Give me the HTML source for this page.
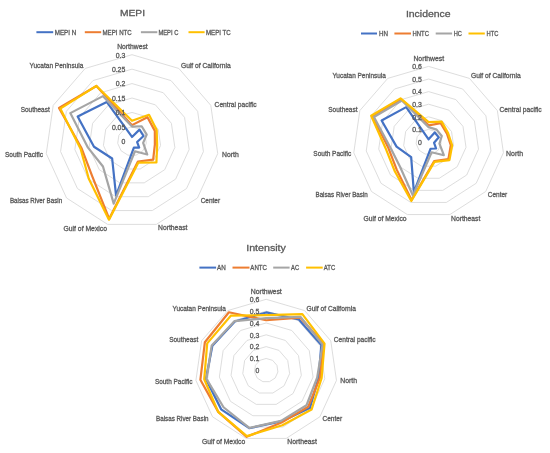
<!DOCTYPE html>
<html><head><meta charset="utf-8"><style>html,body{margin:0;padding:0;background:#fff;width:550px;height:453px;overflow:hidden}svg{display:block}</style></head>
<body>
<div id="w"><svg width="550" height="453" viewBox="0 0 550 453" font-family='"Liberation Sans", sans-serif' fill="#595959" stroke="#595959" stroke-width="0">
<rect width="550" height="453" fill="#fff"/>
<polygon points="132.00,126.87 139.80,129.16 145.13,135.30 146.29,143.35 142.91,150.75 136.07,155.15 127.93,155.15 121.09,150.75 117.71,143.35 118.87,135.30 124.20,129.16" fill="none" stroke="#D9D9D9" stroke-width="0.9"/>
<polygon points="132.00,112.43 147.61,117.02 158.26,129.31 160.57,145.41 153.82,160.20 140.13,169.00 123.87,169.00 110.18,160.20 103.43,145.41 105.74,129.31 116.39,117.02" fill="none" stroke="#D9D9D9" stroke-width="0.9"/>
<polygon points="132.00,98.00 155.41,104.87 171.39,123.31 174.86,147.46 164.72,169.66 144.20,182.85 119.80,182.85 99.28,169.66 89.14,147.46 92.61,123.31 108.59,104.87" fill="none" stroke="#D9D9D9" stroke-width="0.9"/>
<polygon points="132.00,83.57 163.21,92.73 184.52,117.32 189.15,149.52 175.63,179.11 148.27,196.69 115.73,196.69 88.37,179.11 74.85,149.52 79.48,117.32 100.79,92.73" fill="none" stroke="#D9D9D9" stroke-width="0.9"/>
<polygon points="132.00,69.13 171.02,80.59 197.65,111.32 203.43,151.57 186.54,188.56 152.33,210.54 111.67,210.54 77.46,188.56 60.57,151.57 66.35,111.32 92.98,80.59" fill="none" stroke="#D9D9D9" stroke-width="0.9"/>
<polygon points="132.00,54.70 178.82,68.45 210.77,105.33 217.72,153.62 197.45,198.01 156.40,224.39 107.60,224.39 66.55,198.01 46.28,153.62 53.23,105.33 85.18,68.45" fill="none" stroke="#D9D9D9" stroke-width="0.9"/>
<polygon points="132.00,136.97 139.49,129.64 143.55,136.02 137.14,142.04 139.20,147.54 133.87,147.67 116.06,195.59 112.15,158.50 94.00,146.76 77.65,116.48 106.72,101.96" fill="none" stroke="#4472C4" stroke-width="2.2" stroke-linejoin="round"/>
<polygon points="132.00,125.13 147.45,117.26 154.84,130.87 154.86,144.59 153.16,159.64 137.94,161.52 109.23,218.85 92.08,175.89 81.71,148.53 59.00,107.96 96.42,85.93" fill="none" stroke="#ED7D31" stroke-width="2.2" stroke-linejoin="round"/>
<polygon points="132.00,126.58 141.68,126.24 146.70,134.58 143.14,142.90 147.27,154.53 134.93,151.27 113.70,203.62 102.98,166.44 88.00,147.63 70.29,113.12 102.97,96.13" fill="none" stroke="#A5A5A5" stroke-width="2.2" stroke-linejoin="round"/>
<polygon points="132.00,120.80 149.01,114.83 156.68,130.03 157.14,144.92 156.43,162.47 138.26,162.63 108.98,219.68 88.80,178.73 80.57,148.69 60.32,108.56 96.42,85.93" fill="none" stroke="#FFC000" stroke-width="2.2" stroke-linejoin="round"/>
<text x="125.3" y="144.1" font-size="6.9" stroke-width="0.3" text-anchor="end">0</text>
<text x="125.3" y="129.7" font-size="6.9" stroke-width="0.3" text-anchor="end">0.05</text>
<text x="125.3" y="115.2" font-size="6.9" stroke-width="0.3" text-anchor="end">0.1</text>
<text x="125.3" y="100.8" font-size="6.9" stroke-width="0.3" text-anchor="end">0.15</text>
<text x="125.3" y="86.4" font-size="6.9" stroke-width="0.3" text-anchor="end">0.2</text>
<text x="125.3" y="71.9" font-size="6.9" stroke-width="0.3" text-anchor="end">0.25</text>
<text x="125.3" y="57.5" font-size="6.9" stroke-width="0.3" text-anchor="end">0.3</text>
<text x="117.2" y="48.9" font-size="6.9" stroke-width="0.3" textLength="30.5" lengthAdjust="spacingAndGlyphs">Northwest</text>
<text x="181.0" y="67.9" font-size="6.9" stroke-width="0.3" textLength="49.6" lengthAdjust="spacingAndGlyphs">Gulf of California</text>
<text x="214.6" y="106.5" font-size="6.9" stroke-width="0.3" textLength="42.1" lengthAdjust="spacingAndGlyphs">Central pacific</text>
<text x="222.1" y="156.7" font-size="6.9" stroke-width="0.3" textLength="16.7" lengthAdjust="spacingAndGlyphs">North</text>
<text x="200.7" y="202.6" font-size="6.9" stroke-width="0.3" textLength="19.4" lengthAdjust="spacingAndGlyphs">Center</text>
<text x="158.1" y="230.2" font-size="6.9" stroke-width="0.3" textLength="29.3" lengthAdjust="spacingAndGlyphs">Northeast</text>
<text x="63.5" y="230.6" font-size="6.9" stroke-width="0.3" textLength="43.5" lengthAdjust="spacingAndGlyphs">Gulf of Mexico</text>
<text x="9.9" y="203.1" font-size="6.9" stroke-width="0.3" textLength="52.3" lengthAdjust="spacingAndGlyphs">Balsas River Basin</text>
<text x="4.9" y="156.9" font-size="6.9" stroke-width="0.3" textLength="38.1" lengthAdjust="spacingAndGlyphs">South Pacific</text>
<text x="20.7" y="112.2" font-size="6.9" stroke-width="0.3" textLength="29.0" lengthAdjust="spacingAndGlyphs">Southeast</text>
<text x="29.5" y="68.1" font-size="6.9" stroke-width="0.3" textLength="53.9" lengthAdjust="spacingAndGlyphs">Yucatan Peninsula</text>
<text x="119.9" y="15.5" font-size="9.7" stroke-width="0.3" textLength="25.1" lengthAdjust="spacingAndGlyphs">MEPI</text>
<line x1="36.4" y1="32.2" x2="53.2" y2="32.2" stroke="#4472C4" stroke-width="2"/>
<text x="54.7" y="34.6" font-size="6.9" stroke-width="0.3" textLength="21.5" lengthAdjust="spacingAndGlyphs">MEPI N</text>
<line x1="84.8" y1="32.2" x2="101.2" y2="32.2" stroke="#ED7D31" stroke-width="2"/>
<text x="102.5" y="34.6" font-size="6.9" stroke-width="0.3" textLength="29.2" lengthAdjust="spacingAndGlyphs">MEPI NTC</text>
<line x1="140.9" y1="32.2" x2="157.3" y2="32.2" stroke="#A5A5A5" stroke-width="2"/>
<text x="158.4" y="34.6" font-size="6.9" stroke-width="0.3" textLength="20.0" lengthAdjust="spacingAndGlyphs">MEPI C</text>
<line x1="188.5" y1="32.2" x2="204.6" y2="32.2" stroke="#FFC000" stroke-width="2"/>
<text x="205.9" y="34.6" font-size="6.9" stroke-width="0.3" textLength="24.9" lengthAdjust="spacingAndGlyphs">MEPI TC</text>
<polygon points="428.60,129.40 435.41,131.40 440.06,136.77 441.07,143.79 438.12,150.25 432.15,154.09 425.05,154.09 419.08,150.25 416.13,143.79 417.14,136.77 421.79,131.40" fill="none" stroke="#D9D9D9" stroke-width="0.9"/>
<polygon points="428.60,116.80 442.22,120.80 451.52,131.53 453.54,145.59 447.64,158.50 435.70,166.18 421.50,166.18 409.56,158.50 403.66,145.59 405.68,131.53 414.98,120.80" fill="none" stroke="#D9D9D9" stroke-width="0.9"/>
<polygon points="428.60,104.20 449.04,110.20 462.98,126.30 466.02,147.38 457.17,166.75 439.25,178.27 417.95,178.27 400.03,166.75 391.18,147.38 394.22,126.30 408.16,110.20" fill="none" stroke="#D9D9D9" stroke-width="0.9"/>
<polygon points="428.60,91.60 455.85,99.60 474.45,121.06 478.49,149.17 466.69,175.00 442.80,190.36 414.40,190.36 390.51,175.00 378.71,149.17 382.75,121.06 401.35,99.60" fill="none" stroke="#D9D9D9" stroke-width="0.9"/>
<polygon points="428.60,79.00 462.66,89.00 485.91,115.83 490.96,150.97 476.21,183.26 446.35,202.45 410.85,202.45 380.99,183.26 366.24,150.97 371.29,115.83 394.54,89.00" fill="none" stroke="#D9D9D9" stroke-width="0.9"/>
<polygon points="428.60,66.40 469.47,78.40 497.37,110.59 503.43,152.76 485.73,191.51 449.90,214.54 407.30,214.54 371.47,191.51 353.77,152.76 359.83,110.59 387.73,78.40" fill="none" stroke="#D9D9D9" stroke-width="0.9"/>
<polygon points="428.60,139.35 434.73,132.46 438.80,137.34 434.09,142.79 436.12,148.52 430.59,148.77 413.87,192.17 411.17,157.10 396.55,146.61 381.61,120.54 406.19,107.13" fill="none" stroke="#4472C4" stroke-width="2.2" stroke-linejoin="round"/>
<polygon points="428.60,125.37 440.66,123.24 446.94,133.63 450.80,145.19 448.41,159.16 434.21,161.10 411.56,200.03 396.70,169.64 388.32,147.79 372.44,116.35 401.22,99.39" fill="none" stroke="#ED7D31" stroke-width="2.2" stroke-linejoin="round"/>
<polygon points="428.60,127.13 436.57,129.60 441.78,135.98 439.45,143.56 443.84,155.20 431.62,152.28 412.91,195.44 400.03,166.75 390.31,147.51 373.93,117.03 401.96,100.55" fill="none" stroke="#A5A5A5" stroke-width="2.2" stroke-linejoin="round"/>
<polygon points="428.60,122.09 441.68,121.65 448.08,133.10 452.17,145.39 449.45,160.07 434.42,161.83 411.31,200.88 394.80,171.29 385.57,148.19 371.18,115.78 400.53,98.33" fill="none" stroke="#FFC000" stroke-width="2.2" stroke-linejoin="round"/>
<text x="421.8" y="144.8" font-size="6.9" stroke-width="0.3" text-anchor="end">0</text>
<text x="421.8" y="132.2" font-size="6.9" stroke-width="0.3" text-anchor="end">0.1</text>
<text x="421.8" y="119.6" font-size="6.9" stroke-width="0.3" text-anchor="end">0.2</text>
<text x="421.8" y="107.0" font-size="6.9" stroke-width="0.3" text-anchor="end">0.3</text>
<text x="421.8" y="94.4" font-size="6.9" stroke-width="0.3" text-anchor="end">0.4</text>
<text x="421.8" y="81.8" font-size="6.9" stroke-width="0.3" text-anchor="end">0.5</text>
<text x="421.8" y="69.2" font-size="6.9" stroke-width="0.3" text-anchor="end">0.6</text>
<text x="413.4" y="60.7" font-size="6.9" stroke-width="0.3" textLength="30.8" lengthAdjust="spacingAndGlyphs">Northwest</text>
<text x="471.0" y="77.9" font-size="6.9" stroke-width="0.3" textLength="49.6" lengthAdjust="spacingAndGlyphs">Gulf of California</text>
<text x="499.4" y="111.7" font-size="6.9" stroke-width="0.3" textLength="42.3" lengthAdjust="spacingAndGlyphs">Central pacific</text>
<text x="506.1" y="155.6" font-size="6.9" stroke-width="0.3" textLength="17.0" lengthAdjust="spacingAndGlyphs">North</text>
<text x="487.8" y="196.8" font-size="6.9" stroke-width="0.3" textLength="19.4" lengthAdjust="spacingAndGlyphs">Center</text>
<text x="451.0" y="221.1" font-size="6.9" stroke-width="0.3" textLength="29.3" lengthAdjust="spacingAndGlyphs">Northeast</text>
<text x="363.4" y="221.1" font-size="6.9" stroke-width="0.3" textLength="43.2" lengthAdjust="spacingAndGlyphs">Gulf of Mexico</text>
<text x="315.5" y="196.8" font-size="6.9" stroke-width="0.3" textLength="52.3" lengthAdjust="spacingAndGlyphs">Balsas River Basin</text>
<text x="313.3" y="155.6" font-size="6.9" stroke-width="0.3" textLength="38.0" lengthAdjust="spacingAndGlyphs">South Pacific</text>
<text x="328.3" y="111.7" font-size="6.9" stroke-width="0.3" textLength="29.2" lengthAdjust="spacingAndGlyphs">Southeast</text>
<text x="332.4" y="78.1" font-size="6.9" stroke-width="0.3" textLength="53.5" lengthAdjust="spacingAndGlyphs">Yucatan Peninsula</text>
<text x="405.9" y="17.1" font-size="9.7" stroke-width="0.3" textLength="44.7" lengthAdjust="spacingAndGlyphs">Incidence</text>
<line x1="361.0" y1="33.5" x2="377.0" y2="33.5" stroke="#4472C4" stroke-width="2"/>
<text x="379.0" y="35.9" font-size="6.9" stroke-width="0.3" textLength="9.0" lengthAdjust="spacingAndGlyphs">HN</text>
<line x1="394.4" y1="33.5" x2="411.0" y2="33.5" stroke="#ED7D31" stroke-width="2"/>
<text x="412.6" y="35.9" font-size="6.9" stroke-width="0.3" textLength="16.4" lengthAdjust="spacingAndGlyphs">HNTC</text>
<line x1="435.7" y1="33.5" x2="452.1" y2="33.5" stroke="#A5A5A5" stroke-width="2"/>
<text x="453.7" y="35.9" font-size="6.9" stroke-width="0.3" textLength="8.2" lengthAdjust="spacingAndGlyphs">HC</text>
<line x1="468.5" y1="33.5" x2="484.8" y2="33.5" stroke="#FFC000" stroke-width="2"/>
<text x="486.5" y="35.9" font-size="6.9" stroke-width="0.3" textLength="11.9" lengthAdjust="spacingAndGlyphs">HTC</text>
<polygon points="266.20,358.47 272.60,360.35 276.96,365.38 277.91,371.98 275.14,378.05 269.53,381.65 262.87,381.65 257.26,378.05 254.49,371.98 255.44,365.38 259.80,360.35" fill="none" stroke="#D9D9D9" stroke-width="0.9"/>
<polygon points="266.20,346.63 279.00,350.39 287.73,360.47 289.63,373.67 284.09,385.80 272.87,393.01 259.53,393.01 248.31,385.80 242.77,373.67 244.67,360.47 253.40,350.39" fill="none" stroke="#D9D9D9" stroke-width="0.9"/>
<polygon points="266.20,334.80 285.39,340.44 298.49,355.55 301.34,375.35 293.03,393.55 276.20,404.36 256.20,404.36 239.37,393.55 231.06,375.35 233.91,355.55 247.01,340.44" fill="none" stroke="#D9D9D9" stroke-width="0.9"/>
<polygon points="266.20,322.97 291.79,330.48 309.26,350.64 313.05,377.04 301.97,401.30 279.54,415.72 252.86,415.72 230.43,401.30 219.35,377.04 223.14,350.64 240.61,330.48" fill="none" stroke="#D9D9D9" stroke-width="0.9"/>
<polygon points="266.20,311.13 298.19,320.53 320.02,345.72 324.76,378.72 310.92,409.05 282.87,427.07 249.53,427.07 221.48,409.05 207.64,378.72 212.38,345.72 234.21,320.53" fill="none" stroke="#D9D9D9" stroke-width="0.9"/>
<polygon points="266.20,299.30 304.59,310.57 330.78,340.81 336.48,380.40 319.86,416.80 286.20,438.42 246.20,438.42 212.54,416.80 195.92,380.40 201.62,340.81 227.81,310.57" fill="none" stroke="#D9D9D9" stroke-width="0.9"/>
<polygon points="266.20,312.44 298.83,319.53 321.31,345.13 318.56,377.83 309.84,408.12 281.20,421.39 249.20,428.21 221.13,409.36 205.88,378.97 212.38,345.72 234.85,321.52" fill="none" stroke="#4472C4" stroke-width="2.2" stroke-linejoin="round"/>
<polygon points="266.20,320.25 300.11,317.54 323.89,343.95 319.85,378.01 308.23,406.72 281.54,422.53 246.66,436.83 218.27,411.84 200.37,379.76 204.85,342.28 228.90,312.26" fill="none" stroke="#ED7D31" stroke-width="2.2" stroke-linejoin="round"/>
<polygon points="266.20,318.12 300.56,316.84 322.60,344.54 317.15,377.63 306.53,405.25 281.04,420.83 249.26,427.98 223.54,407.26 206.46,378.89 211.73,345.43 234.60,321.12" fill="none" stroke="#A5A5A5" stroke-width="2.2" stroke-linejoin="round"/>
<polygon points="266.20,315.16 302.35,314.06 324.54,343.66 321.60,378.27 311.54,409.59 282.34,425.25 246.86,436.15 218.18,411.91 204.24,379.21 207.21,343.36 231.01,315.55" fill="none" stroke="#FFC000" stroke-width="2.2" stroke-linejoin="round"/>
<text x="259.3" y="373.1" font-size="6.9" stroke-width="0.3" text-anchor="end">0</text>
<text x="259.3" y="361.3" font-size="6.9" stroke-width="0.3" text-anchor="end">0.1</text>
<text x="259.3" y="349.4" font-size="6.9" stroke-width="0.3" text-anchor="end">0.2</text>
<text x="259.3" y="337.6" font-size="6.9" stroke-width="0.3" text-anchor="end">0.3</text>
<text x="259.3" y="325.8" font-size="6.9" stroke-width="0.3" text-anchor="end">0.4</text>
<text x="259.3" y="313.9" font-size="6.9" stroke-width="0.3" text-anchor="end">0.5</text>
<text x="259.3" y="302.1" font-size="6.9" stroke-width="0.3" text-anchor="end">0.6</text>
<text x="250.8" y="293.7" font-size="6.9" stroke-width="0.3" textLength="31.0" lengthAdjust="spacingAndGlyphs">Northwest</text>
<text x="306.5" y="310.8" font-size="6.9" stroke-width="0.3" textLength="49.5" lengthAdjust="spacingAndGlyphs">Gulf of California</text>
<text x="333.8" y="341.7" font-size="6.9" stroke-width="0.3" textLength="41.8" lengthAdjust="spacingAndGlyphs">Central pacific</text>
<text x="340.2" y="383.2" font-size="6.9" stroke-width="0.3" textLength="16.8" lengthAdjust="spacingAndGlyphs">North</text>
<text x="322.5" y="421.0" font-size="6.9" stroke-width="0.3" textLength="19.6" lengthAdjust="spacingAndGlyphs">Center</text>
<text x="287.3" y="443.9" font-size="6.9" stroke-width="0.3" textLength="29.5" lengthAdjust="spacingAndGlyphs">Northeast</text>
<text x="201.9" y="443.9" font-size="6.9" stroke-width="0.3" textLength="43.3" lengthAdjust="spacingAndGlyphs">Gulf of Mexico</text>
<text x="156.1" y="421.0" font-size="6.9" stroke-width="0.3" textLength="52.4" lengthAdjust="spacingAndGlyphs">Balsas River Basin</text>
<text x="154.9" y="383.7" font-size="6.9" stroke-width="0.3" textLength="37.6" lengthAdjust="spacingAndGlyphs">South Pacific</text>
<text x="169.2" y="341.7" font-size="6.9" stroke-width="0.3" textLength="29.2" lengthAdjust="spacingAndGlyphs">Southeast</text>
<text x="172.5" y="310.8" font-size="6.9" stroke-width="0.3" textLength="53.4" lengthAdjust="spacingAndGlyphs">Yucatan Peninsula</text>
<text x="246.2" y="251.4" font-size="9.7" stroke-width="0.3" textLength="39.7" lengthAdjust="spacingAndGlyphs">Intensity</text>
<line x1="199.4" y1="267.6" x2="216.1" y2="267.6" stroke="#4472C4" stroke-width="2"/>
<text x="217.1" y="270.0" font-size="6.9" stroke-width="0.3" textLength="8.7" lengthAdjust="spacingAndGlyphs">AN</text>
<line x1="232.5" y1="267.6" x2="249.5" y2="267.6" stroke="#ED7D31" stroke-width="2"/>
<text x="250.3" y="270.0" font-size="6.9" stroke-width="0.3" textLength="16.7" lengthAdjust="spacingAndGlyphs">ANTC</text>
<line x1="273.2" y1="267.6" x2="289.6" y2="267.6" stroke="#A5A5A5" stroke-width="2"/>
<text x="291.1" y="270.0" font-size="6.9" stroke-width="0.3" textLength="8.0" lengthAdjust="spacingAndGlyphs">AC</text>
<line x1="306.1" y1="267.6" x2="322.7" y2="267.6" stroke="#FFC000" stroke-width="2"/>
<text x="323.8" y="270.0" font-size="6.9" stroke-width="0.3" textLength="11.4" lengthAdjust="spacingAndGlyphs">ATC</text>
</svg></div>
</body></html>
